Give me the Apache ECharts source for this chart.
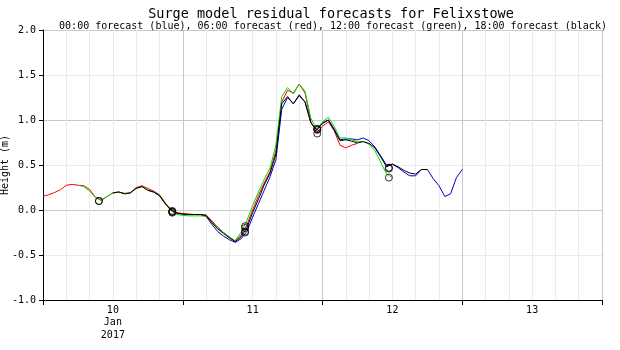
<!DOCTYPE html>
<html>
<head>
<meta charset="utf-8">
<script src="https://cdn.jsdelivr.net/npm/echarts@6/dist/echarts.min.js"></script>
<style>
  html, body { margin: 0; padding: 0; background: #fff; }
  #chart { width: 620px; height: 350px; }
</style>
</head>
<body>
<div id="chart"></div>
<script>
// Hours are counted from 10 Jan 2017 00:00; each forecast is hourly over its own 54 h window.
const titleText = 'Surge model residual forecasts for Felixstowe';
const subtitleText = '00:00 forecast (blue), 06:00 forecast (red), 12:00 forecast (green), 18:00 forecast (black)';

const dayLabelHours = [12, 36, 60, 84];
const dayLabels = ['10\nJan\n2017', '11', '12', '13'];

// 00:00 forecast, from hour 18
const blueStart = 18;
const blueValues = [0.22, 0.2, 0.16, 0.07, 0.0, -0.035, -0.045, -0.05, -0.05, -0.05,
  -0.07, -0.16, -0.24, -0.29, -0.33, -0.36, -0.32, -0.24, -0.08, 0.07,
  0.22, 0.37, 0.56, 1.12, 1.25, 1.18, 1.27, 1.2, 0.97, 0.89,
  0.97, 1.0, 0.9, 0.78, 0.79, 0.79, 0.78, 0.8, 0.77, 0.7,
  0.6, 0.5, 0.51, 0.47, 0.42, 0.38, 0.38, 0.45, 0.45, 0.35,
  0.27, 0.15, 0.18, 0.36, 0.45];

// 06:00 forecast, from hour 0
const redStart = 0;
const redValues = [0.15, 0.17, 0.195, 0.225, 0.275, 0.285, 0.275, 0.27, 0.23, 0.14,
  0.11, 0.15, 0.19, 0.2, 0.185, 0.19, 0.25, 0.27, 0.24, 0.21,
  0.17, 0.08, 0.0, -0.03, -0.04, -0.045, -0.05, -0.05, -0.055, -0.12,
  -0.19, -0.25, -0.3, -0.35, -0.28, -0.17, 0.0, 0.16, 0.3, 0.43,
  0.66, 1.2, 1.33, 1.3, 1.4, 1.3, 0.98, 0.86, 0.93, 0.98,
  0.88, 0.72, 0.69, 0.72, 0.74];

// 12:00 forecast, from hour 6
const greenStart = 6;
const greenValues = [0.275, 0.26, 0.21, 0.14, 0.105, 0.15, 0.19, 0.2, 0.18, 0.19,
  0.24, 0.26, 0.22, 0.2, 0.16, 0.07, -0.01, -0.05, -0.06, -0.065,
  -0.065, -0.065, -0.07, -0.13, -0.2, -0.25, -0.3, -0.34, -0.25, -0.12,
  0.05, 0.2, 0.34, 0.47, 0.72, 1.26, 1.36, 1.29, 1.4, 1.32,
  1.02, 0.9, 0.98, 1.03, 0.93, 0.8, 0.8, 0.78, 0.76, 0.76,
  0.73, 0.66, 0.53, 0.4, 0.36];

// 18:00 forecast, from hour 12
const blackStart = 12;
const blackValues = [0.19, 0.2, 0.18, 0.19, 0.24, 0.26, 0.22, 0.2, 0.16, 0.07,
  0.0, -0.035, -0.045, -0.05, -0.05, -0.05, -0.06, -0.14, -0.21, -0.26,
  -0.31, -0.35, -0.3, -0.2, -0.03, 0.12, 0.28, 0.41, 0.62, 1.18,
  1.26, 1.18, 1.28, 1.2, 0.97, 0.89, 0.96, 1.0, 0.89, 0.77,
  0.78, 0.765, 0.745, 0.76, 0.74, 0.69, 0.59, 0.48, 0.51, 0.48,
  0.44, 0.41, 0.4, 0.45, 0.45];

// High-water times (hours) and each forecast's residual at them (null = outside its window)
const hwHours = [9.6, 22.2, 34.7, 47.1, 59.4];
const hwBlue = [null, -0.03, -0.25, 0.9, 0.47];
const hwRed = [0.1, -0.01, -0.2, 0.85, null];
const hwGreen = [0.1, -0.02, -0.18, 0.9, 0.36];
const hwBlack = [null, -0.02, -0.24, 0.89, 0.46];

const FONT = 'DejaVu Sans Mono';

function toPairs(start, values) {
  return values.map((v, i) => [start + i, v]);
}
function hwPairs() {
  const out = [];
  [hwBlue, hwRed, hwGreen, hwBlack].forEach(arr => {
    arr.forEach((v, i) => { if (v !== null) out.push([hwHours[i], v]); });
  });
  return out;
}

function lineSeries(name, color, start, values) {
  return {
    name, type: 'line', data: toPairs(start, values),
    showSymbol: false, symbol: 'none', smooth: false,
    lineStyle: { color, width: 1 }, itemStyle: { color },
    animation: false, silent: true
  };
}

const chart = echarts.init(document.getElementById('chart'), null, { renderer: 'canvas' });
chart.setOption({
  backgroundColor: '#fff',
  animation: false,
  title: [
    { text: titleText, left: 326, top: 2, textAlign: 'center',
      textStyle: { fontFamily: FONT, fontSize: 13.5, fontWeight: 'normal', color: '#000' } },
    { text: subtitleText, left: 328, top: 16, textAlign: 'center',
      textStyle: { fontFamily: FONT, fontSize: 10, fontWeight: 'normal', color: '#000' } }
  ],
  grid: { left: 43, right: 18, top: 30, bottom: 50, containLabel: false, outerBoundsMode: 'none' },
  xAxis: {
    type: 'value', min: 0, max: 96, interval: 24,
    axisLine: { onZero: false, lineStyle: { color: '#000', width: 1 } },
    axisTick: { show: true, length: 5, lineStyle: { color: '#000' } },
    axisLabel: {
      customValues: dayLabelHours,
      formatter: v => dayLabels[dayLabelHours.indexOf(v)] || '',
      fontFamily: FONT, fontSize: 10, color: '#000', lineHeight: 12.5, margin: 4
    },
    splitLine: { show: true, lineStyle: { color: '#c8c8c8', width: 1 } },
    minorTick: { show: false, splitNumber: 6 },
    minorSplitLine: { show: true, lineStyle: { color: '#ebebeb', width: 1 } }
  },
  yAxis: {
    type: 'value', min: -1, max: 2, interval: 0.5,
    name: 'Height (m)', nameLocation: 'middle', nameGap: 33, nameRotate: 90,
    nameMoveOverlap: false,
    nameTextStyle: { fontFamily: FONT, fontSize: 10, color: '#000' },
    axisLine: { show: true, onZero: false, lineStyle: { color: '#000', width: 1 } },
    axisTick: { show: true, length: 4, lineStyle: { color: '#000' } },
    axisLabel: {
      formatter: v => v.toFixed(1),
      fontFamily: FONT, fontSize: 10, color: '#000', margin: 7
    },
    splitLine: { show: true, lineStyle: { color: ['#c8c8c8', '#ebebeb'], width: 1 } }
  },
  series: [
    lineSeries('00:00 forecast', '#0000cc', blueStart, blueValues),
    lineSeries('06:00 forecast', '#ff0000', redStart, redValues),
    lineSeries('12:00 forecast', '#00dd00', greenStart, greenValues),
    lineSeries('18:00 forecast', '#000000', blackStart, blackValues),
    {
      name: 'High water', type: 'scatter', data: hwPairs(),
      symbol: 'circle', symbolSize: 7, z: 5,
      itemStyle: { color: 'rgba(0,0,0,0)', borderColor: '#000', borderWidth: 1 },
      animation: false, silent: true
    }
  ]
});
</script>
</body>
</html>
